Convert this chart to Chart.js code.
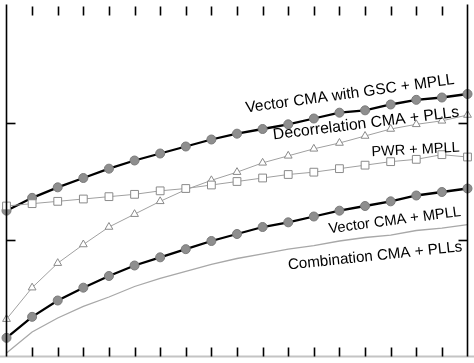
<!DOCTYPE html>
<html>
<head>
<meta charset="utf-8">
<script src="https://cdn.jsdelivr.net/npm/chart.js@4/dist/chart.umd.min.js"></script>
<style>
html,body{margin:0;padding:0;background:#fff;overflow:hidden;}
#wrap{width:474px;height:363px;position:relative;}
</style>
</head>
<body>
<div id="wrap"><canvas id="c" width="474" height="363"></canvas></div>
<script>
// Categories (x positions, one per sample)
const steps = [0,1,2,3,4,5,6,7,8,9,10,11,12,13,14,15,16,17,18];

// Series values
const vectorGscMpll = [1.25,1.36,1.45,1.53,1.61,1.68,1.74,1.80,1.86,1.91,1.95,1.99,2.04,2.09,2.11,2.16,2.20,2.22,2.25];
const decorrelationPlls = [0.32,0.59,0.80,0.96,1.11,1.22,1.33,1.43,1.51,1.58,1.66,1.72,1.78,1.83,1.89,1.95,1.99,2.02,2.07];
const pwrMpll = [1.29,1.31,1.33,1.35,1.37,1.39,1.42,1.44,1.47,1.50,1.53,1.56,1.58,1.61,1.64,1.67,1.69,1.73,1.71];
const vectorMpll = [0.16,0.34,0.48,0.59,0.69,0.78,0.85,0.92,0.99,1.05,1.11,1.15,1.20,1.25,1.29,1.33,1.38,1.41,1.44];
const combinationPlls = [0.03,0.21,0.33,0.43,0.51,0.60,0.67,0.73,0.79,0.84,0.88,0.92,0.95,0.99,1.02,1.04,1.08,1.10,1.13];

// Axis ticks
const xTicks = [1,2,3,4,5,6,7,8,9,10,11,12,13,14,15,16,17];
const yTicks = [1,2];

// Curve labels: text, anchor x, anchor y (data units)
const labelTexts = ["Vector CMA with GSC + MPLL","Decorrelation CMA + PLLs","PWR + MPLL","Vector CMA + MPLL","Combination CMA + PLLs"];
const labelX = [13.41,14.04,15.97,15.16,14.39];
const labelY = [2.25,1.995,1.77,1.165,0.86];
// label styling (kept apart from data)
const labelStyle = {angles:[-7.8,-7,-3,-7.5,-6], sizes:[15.5,15.8,14.5,14.7,15.2]};

function pts(arr){ return steps.map((s,i)=>({x:s,y:arr[i]})); }

const framePlugin = {
  id:'frame',
  afterDatasetsDraw(chart){
    const ctx = chart.ctx, xs = chart.scales.x, ys = chart.scales.y;
    const L = xs.getPixelForValue(steps[0]), R = xs.getPixelForValue(steps[steps.length-1]);
    const B = ys.getPixelForValue(0), T = ys.getPixelForValue(3);
    ctx.save();
    ctx.strokeStyle = '#c4c4c4'; ctx.lineWidth = 2;
    ctx.beginPath(); ctx.moveTo(0,B); ctx.lineTo(474,B); ctx.stroke();
    ctx.strokeStyle = '#000'; ctx.lineWidth = 1.6;
    ctx.beginPath(); ctx.moveTo(L,T-2); ctx.lineTo(L,B); ctx.stroke();
    ctx.beginPath(); ctx.moveTo(R,T-2); ctx.lineTo(R,B); ctx.stroke();
    const tl = 9;
    xTicks.forEach(v=>{
      const px = Math.round(xs.getPixelForValue(v))+0.5;
      ctx.beginPath(); ctx.moveTo(px,T); ctx.lineTo(px,T+tl); ctx.stroke();
      ctx.beginPath(); ctx.moveTo(px,B); ctx.lineTo(px,B-tl); ctx.stroke();
    });
    yTicks.forEach(v=>{
      const py = Math.round(ys.getPixelForValue(v))+0.5;
      ctx.beginPath(); ctx.moveTo(L,py); ctx.lineTo(L+tl,py); ctx.stroke();
      ctx.beginPath(); ctx.moveTo(R,py); ctx.lineTo(R-tl,py); ctx.stroke();
    });
    ctx.fillStyle = '#000';
    ctx.textAlign = 'center'; ctx.textBaseline = 'middle';
    labelTexts.forEach((t,i)=>{
      ctx.save();
      ctx.font = labelStyle.sizes[i] + 'px "Liberation Sans", Arial, sans-serif';
      ctx.translate(xs.getPixelForValue(labelX[i]), ys.getPixelForValue(labelY[i]));
      ctx.rotate(labelStyle.angles[i]*Math.PI/180);
      ctx.fillText(t,0,0);
      ctx.restore();
    });
    ctx.restore();
  }
};

const thick = {borderColor:'#000',borderWidth:2.3,pointStyle:'circle',pointRadius:4.5,pointBackgroundColor:'#8e8e8e',pointBorderColor:'#7a7a7a',pointBorderWidth:1};
const thin = {borderColor:'#a0a0a0',borderWidth:1,pointRadius:4.5,pointBackgroundColor:'#fff',pointBorderColor:'#8a8a8a',pointBorderWidth:1};

new Chart(document.getElementById('c'),{
  type:'line',
  data:{datasets:[
    Object.assign({label:labelTexts[2],data:pts(pwrMpll),pointStyle:'rect'},thin,{pointRadius:5.5}),
    Object.assign({label:labelTexts[1],data:pts(decorrelationPlls),pointStyle:'triangle'},thin),
    Object.assign({label:labelTexts[0],data:pts(vectorGscMpll)},thick),
    Object.assign({label:labelTexts[3],data:pts(vectorMpll)},thick),
    {label:labelTexts[4],data:pts(combinationPlls),borderColor:'#a8a8a8',borderWidth:1.3,pointRadius:0}
  ]},
  options:{
    responsive:false,animation:false,devicePixelRatio:1,
    layout:{padding:{left:3,right:4,top:0,bottom:1}},
    clip:false,
    elements:{line:{tension:0}},
    plugins:{legend:{display:false},tooltip:{enabled:false}},
    scales:{
      x:{type:'linear',min:0,max:18,display:false},
      y:{type:'linear',min:0,max:3,display:false}
    }
  },
  plugins:[framePlugin]
});
</script>
</body>
</html>
